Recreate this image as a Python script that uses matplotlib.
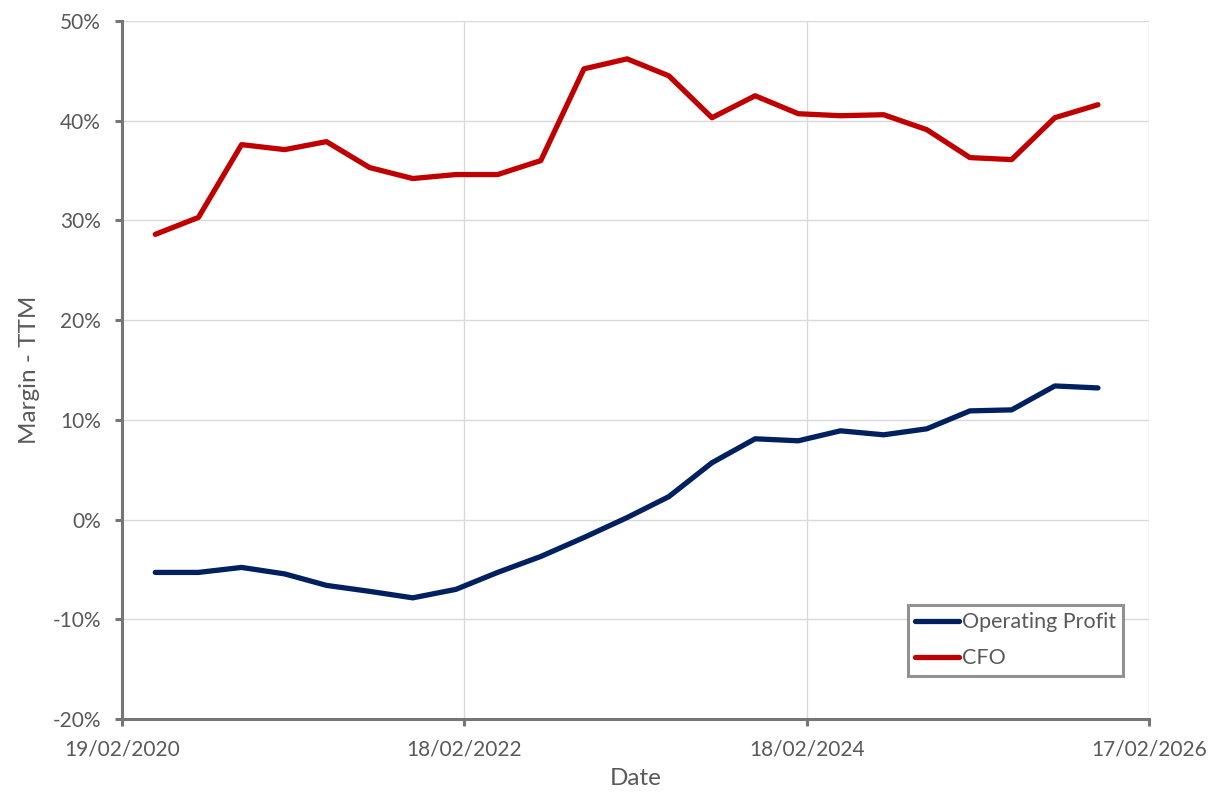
#!/usr/bin/env python3
"""TTM margins: operating profit vs cash flow from operations."""

import matplotlib
matplotlib.use("Agg")
import matplotlib.dates as mdates
import matplotlib.pyplot as plt
import numpy as np
import pandas as pd
from matplotlib.ticker import FixedLocator, PercentFormatter

# quarter-end dates (fiscal quarters ending Jan/Apr/Jul/Oct)
dates = [
    "2020-04-30", "2020-07-31", "2020-10-31", "2021-01-31",
    "2021-04-30", "2021-07-31", "2021-10-31", "2022-01-31",
    "2022-04-30", "2022-07-31", "2022-10-31", "2023-01-31",
    "2023-04-30", "2023-07-31", "2023-10-31", "2024-01-31",
    "2024-04-30", "2024-07-31", "2024-10-31", "2025-01-31",
    "2025-04-30", "2025-07-31", "2025-10-31",
]

# TTM margins, in %
operating_profit = [
    -5.3, -5.3, -4.8, -5.45, -6.6, -7.2, -7.85, -7.0,
    -5.3, -3.7, -1.8, 0.2, 2.3, 5.7, 8.1, 7.9,
    8.9, 8.5, 9.1, 10.9, 11.0, 13.4, 13.2,
]
cfo = [
    28.6, 30.3, 37.6, 37.1, 37.9, 35.3, 34.2, 34.6,
    34.6, 36.0, 45.2, 46.2, 44.5, 40.3, 42.5, 40.7,
    40.5, 40.6, 39.1, 36.3, 36.1, 40.3, 41.6,
]

tick_dates = ["2020-02-19", "2022-02-18", "2024-02-18", "2026-02-17"]
y_ticks = [-20, -10, 0, 10, 20, 30, 40, 50]

TEXT = "#595959"
AXIS = "#767676"
GRID = "#d9d9d9"

plt.rcParams["font.family"] = ["Lato", "DejaVu Sans"]
plt.rcParams["axes.unicode_minus"] = False

x = pd.to_datetime(dates)
xt = pd.to_datetime(tick_dates)

fig = plt.figure(figsize=(12.21, 7.98), dpi=100)
ax = fig.add_axes([0.0999, 0.099, 0.8412, 0.8747])

ax.plot(x, operating_profit, color="#002060", lw=3.8, label="Operating Profit",
        solid_capstyle="round", solid_joinstyle="round", zorder=3)
ax.plot(x, cfo, color="#c00000", lw=3.8, label="CFO",
        solid_capstyle="round", solid_joinstyle="round", zorder=3)

ax.set_xlim(xt[0], xt[-1])
ax.set_ylim(-20, 50)
ax.xaxis.set_major_locator(FixedLocator(mdates.date2num(xt)))
ax.xaxis.set_major_formatter(mdates.DateFormatter("%d/%m/%Y"))
ax.yaxis.set_major_locator(FixedLocator(y_ticks))
ax.yaxis.set_major_formatter(PercentFormatter(decimals=0))

ax.grid(True, color=GRID, lw=1.0, zorder=0)
ax.set_axisbelow(True)
for side in ("top", "right"):
    ax.spines[side].set_visible(False)
for side in ("left", "bottom"):
    ax.spines[side].set_color(AXIS)
    ax.spines[side].set_linewidth(2.2)

ax.tick_params(axis="both", colors=AXIS, labelcolor=TEXT, labelsize=15,
               length=5, width=2.2, direction="out")
ax.tick_params(axis="y", pad=10)
ax.tick_params(axis="x", pad=10)

ax.set_xlabel("Date", fontsize=17.5, color=TEXT, labelpad=6)
ax.set_ylabel("Margin - TTM", fontsize=17.5, color=TEXT, labelpad=9)

leg = ax.legend(loc="lower right", bbox_to_anchor=(0.975, 0.062), borderaxespad=0,
                fontsize=15.5, frameon=True, fancybox=False, handlelength=2.0,
                handletextpad=0.15, labelspacing=0.75, borderpad=0.35)
leg.get_frame().set_edgecolor(AXIS)
leg.get_frame().set_linewidth(2.2)
for t in leg.get_texts():
    t.set_color(TEXT)

fig.savefig("out.png", dpi=100)
